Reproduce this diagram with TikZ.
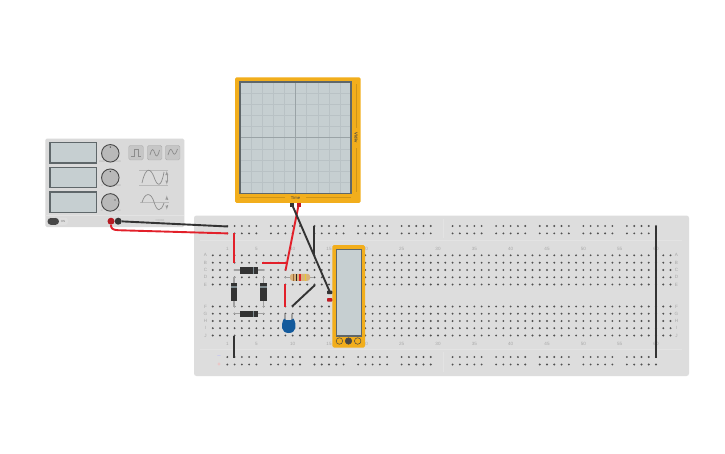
\documentclass[tikz,border=0pt]{standalone}
\usepackage{fontspec}
\setmainfont{Liberation Sans}
\definecolor{board}{HTML}{DDDDDD}
\definecolor{panel}{HTML}{DADADA}
\definecolor{lcd}{HTML}{C6CFD1}
\definecolor{lcdedge}{HTML}{5F676A}
\definecolor{amber}{HTML}{F2AE1C}
\definecolor{wred}{HTML}{E2202A}
\definecolor{wblack}{HTML}{333333}
\definecolor{dotc}{HTML}{505050}
\definecolor{lab}{HTML}{A8A8A8}
\definecolor{lead}{HTML}{A0A0A0}
\definecolor{bodyc}{HTML}{333333}
\definecolor{band}{HTML}{7F8C90}
\definecolor{capblue}{HTML}{135A9C}
\definecolor{grid}{HTML}{B9C2C5}
\definecolor{gridm}{HTML}{9AA3A6}
\definecolor{tan}{HTML}{D9B27A}
\definecolor{divline}{HTML}{E3E3E3}
\tikzset{
  redwire/.style={draw=wred,line width=1.9pt},
  blackwire/.style={draw=wblack,line width=1.9pt},
  leadwire/.style={draw=lead,line width=1.1pt},
  lcdbox/.style={fill=lcd,draw=lcdedge,line width=1.3pt},
  tinylab/.style={text=lab,font=\fontsize{4.6}{5}\selectfont,inner sep=0pt},
  knob/.style={circle,draw=wblack!90,fill=panel!85!black,line width=.9pt,minimum size=17.5pt,inner sep=0pt},
  waveline/.style={draw=gray!90,line width=.7pt},
  btn/.style={draw=gray!65,fill=gray!45,rounded corners=1.5pt,minimum size=14.5pt,inner sep=0pt,line width=.4pt},
  term/.style={circle,minimum size=7pt,inner sep=0pt},
}
\begin{document}
\begin{tikzpicture}[x=1pt,y=-1pt]
\useasboundingbox (0,0) rectangle (725,453);
\fill[white] (0,0) rectangle (725,453);
% breadboard
\fill[board,rounded corners=2.5pt] (194,215.5) rectangle (689,376);
\draw[divline,line width=.5pt] (200,240.5)--(682,240.5) (200,349.5)--(682,349.5);
\draw[divline,line width=.5pt] (443.2,219)--(443.2,238) (443.2,352)--(443.2,372);
\newcommand{\colx}[1]{\pgfmathsetmacro{\cx}{227.3+7.266*(#1-1)}}
% strip holes
\foreach \yy in {255.3,262.7,270,277.3,284.5,306.5,313.7,321,328.2,335.5}{
  \foreach \c in {-1,0,...,62}{
    \colx{\c}\fill[dotc] (\cx,\yy) circle (1.05pt);
  }
}
% rail holes
\foreach \yy in {226,233.4,357,364.5}{
  \foreach \s in {1,7,13,19,25,32,38,44,50,56}{
    \foreach \d in {0,...,4}{
      \colx{\s+\d}\fill[dotc] (\cx,\yy) circle (1.05pt);
    }
  }
}
% numbers
\foreach \n in {1,5,10,15,20,25,30,35,40,45,50,55,60}{
  \colx{\n}
  \node[tinylab] (numt\n) at (\cx,249) {\n};
  \node[tinylab] (numb\n) at (\cx,343.5) {\n};
}
\foreach \l/\yy in {A/255.3,B/262.7,C/270,D/277.3,E/284.5,F/306.5,G/313.7,H/321,I/328.2,J/335.5}{
  \node[tinylab] (ll\l) at (205.5,\yy) {\l};
  \node[tinylab] (lr\l) at (676.5,\yy) {\l};
}
\node[text=blue!30,font=\fontsize{6}{6}\selectfont,inner sep=0pt] (minus) at (219,357) {–};
\node[text=red!35,font=\fontsize{6}{6}\selectfont,inner sep=0pt] (plus) at (219,364.5) {+};
% component leads
\draw[leadwire] (234,270)--(263.5,270) (234,313.7)--(263.5,313.7);
\draw[leadwire] (234,277)--(234,306.5) (263.5,277)--(263.5,306.5);
\draw[leadwire] (285,277.3)--(314,277.3);
\draw[leadwire] (285,313.7)--(285,322) (292,313.7)--(292,322);
% diodes
\foreach \nm/\xa/\ya in {dh1/239.5/266.8,dh2/239.5/310.5}{
  \fill[bodyc] (\xa,\ya) rectangle ++(18.5,6.7);
  \fill[band] (\xa+13,\ya) rectangle ++(1.8,6.7);
}
\foreach \nm/\xa/\ya in {dv1/230.7/283.2,dv2/260.2/283.2}{
  \fill[bodyc] (\xa,\ya) rectangle ++(6.6,17.6);
  \fill[band] (\xa,\ya+2.6) rectangle ++(6.6,1.8);
}
% resistor
\fill[rounded corners=2.5pt,fill=tan] (290,273.8) rectangle (310,280.8);
\fill[brown!80!black] (292.7,273.8) rectangle ++(1.7,7);
\fill[black!85] (295.7,273.8) rectangle ++(1.7,7);
\fill[wred] (298.7,273.8) rectangle ++(2.3,7);
\fill[yellow!60!brown] (304.5,273.8) rectangle ++(1.7,7);
% capacitor
\fill[capblue] (284,318.5) -- (286,320) -- (291,320) -- (293.5,318.5) .. controls (297,325) and (296.5,333) .. (288.7,333) .. controls (281,333) and (280.5,325) .. (284,318.5) -- cycle;
% scope
\fill[amber,rounded corners=1.5pt] (235,77.3) rectangle (360.7,202.8);
\draw[amber!85!black,line width=.4pt] (240,197.5)--(285,197.5) (306,197.5)--(351,197.5) (356,84)--(356,128) (356,148)--(356,192);
\fill[lcd] (240,82) rectangle (351,193.3);
\foreach \i in {1,...,9}{
  \draw[grid,line width=.35pt] ({240+11.1*\i},82)--({240+11.1*\i},193.3);
  \draw[grid,line width=.35pt] (240,{82+11.13*\i})--(351,{82+11.13*\i});
}
\draw[gridm,line width=.55pt] (295.5,82)--(295.5,193.3) (240,137.6)--(351,137.6);
\draw[lcdedge,line width=1.1pt] (240,82) rectangle (351,193.3);
\node[text=black!75,font=\fontsize{4.2}{5}\selectfont,inner sep=0pt] (timelab) at (295.5,197.6) {Time};
\node[text=black!75,font=\bfseries\fontsize{4.2}{5}\selectfont,inner sep=0pt,rotate=-90] (vdiv) at (356,137.5) {V/div};
% multimeter
\fill[amber,rounded corners=1.5pt] (332.3,245) rectangle (365,347.5);
\node[lcdbox,anchor=north west,minimum width=25.3pt,minimum height=86.7pt,inner sep=0pt] (mscreen) at (335.8,248.5) {};
\foreach \nm/\xx/\f in {ma/339.4/amber,mb/348.5/wblack!90,mc/357.7/amber}{
  \node[circle,draw=wblack!90,fill=\f,line width=.5pt,minimum size=6.5pt,inner sep=0pt] (\nm) at (\xx,341) {};
}
% psu
\fill[panel,rounded corners=1.5pt] (45.3,138.6) rectangle (184.3,227);
\draw[divline,line width=.5pt] (45.3,215)--(184.3,215);
\foreach \nm/\ya in {s1/142.8,s2/167.5,s3/192}{
  \draw[lcdbox] (50,\ya) rectangle ++(46.5,20.3);
}
\node[knob] (k1) at (110.3,153.3) {};
\node[knob] (k2) at (110.3,177.7) {};
\node[knob] (k3) at (110.3,202.4) {};
\fill[wblack] (110.3,147) circle (.7pt) (110.3,171.5) circle (.7pt) (115,200) circle (.7pt);
\foreach \nm/\xx/\yy/\t in {a1/102/161.5/OOO,a2/118/161.5/OOO,a3/102/186/0,a4/118/186/OOO,a5/101.5/210.5/-0,a6/119/210.5/+0}{
  \node[tinylab,font=\fontsize{2.5}{3}\selectfont] (\nm) at (\xx,\yy) {\t};
}
\node[btn] (b1) at (136,152.7) {};
\node[btn] (b2) at (154.7,152.7) {};
\node[btn] (b3) at (172.7,152.7) {};
\draw[waveline] (131,156)--(134,156)--(134,149)--(138,149)--(138,156)--(141,156);
\draw[waveline] (150,155) .. controls (152,147) and (153.5,149) .. (154.7,153) .. controls (156,157) and (157.5,158) .. (159.5,150);
\draw[waveline] (168,155) .. controls (170,148) and (171,148) .. (172.7,152) .. controls (174,155) and (175,156) .. (177.5,149);
% amplitude icon
\draw[gray!55,line width=.4pt] (139,170.3)--(168,170.3) (139,185)--(168,185);
\draw[waveline] (142,183) .. controls (146,165) and (151,169) .. (154,177) .. controls (157,186) and (161,189) .. (164,172);
\draw[gray!80,line width=.4pt,<->,>=latex] (166.8,171)--(166.8,184.5);
% offset icon
\draw[gray!55,line width=.4pt] (140,202.2)--(169,202.2);
\draw[waveline] (142,202.5) .. controls (145,192) and (151,192) .. (154,202) .. controls (157,212) and (161,212) .. (164,203);
\draw[gray!80,line width=.4pt,->,>=latex] (166.8,200)--(166.8,195.5);
\draw[gray!80,line width=.4pt,->,>=latex] (166.8,205)--(166.8,209.5);
% switch
\fill[gray!25,rounded corners=3pt] (49.3,217.5) rectangle (68,225);
\fill[wblack!90] (50.5,217.8) rectangle (56,225);
\fill[wblack!90] (51,221.4) circle (3.5pt) (55.5,221.4) circle (3.5pt);
\node[tinylab,text=gray,font=\fontsize{3}{3}\selectfont] (onlab) at (63,221.4) {ON};
% terminals
\node[term,fill=wred!80!black] (pospsu) at (111,221.2) {};
\node[term,fill=wblack] (negpsu) at (118.2,221.2) {};
\node[tinylab,text=gray!60,font=\fontsize{2.8}{3}\selectfont] (brand) at (160,220.5) {OOOO};
% wire endpoints
\coordinate (r1) at (228,233.4);
\coordinate (k) at (228,226.5);
\coordinate (r2a) at (234,233.4);
\coordinate (r2b) at (234,262.7);
\coordinate (r3a) at (262,262.7);
\coordinate (r3b) at (285.5,262.7);
\coordinate (r4a) at (285.5,270.5);
\coordinate (sr) at (298.8,204);
\coordinate (sk) at (291.8,204);
\coordinate (r5a) at (285,284);
\coordinate (r5b) at (285,306.5);
\coordinate (k1a) at (314,226);
\coordinate (k1b) at (314,256);
\coordinate (k2a) at (315,285);
\coordinate (k2b) at (292,306.5);
\coordinate (k3a) at (234,335.5);
\coordinate (k3b) at (234,357.5);
\coordinate (k4a) at (656,226);
\coordinate (k4b) at (656,357.5);
\coordinate (mk) at (330,292.3);
\coordinate (mr) at (330,299.8);
% wires
\draw[redwire] (pospsu) .. controls (111,228) and (112,230) .. (118,230.2) -- (r1);
\draw[blackwire] (negpsu) -- (k);
\draw[redwire] (r2a)--(r2b);
\draw[redwire] (r3a)--(r3b);
\draw[redwire] (r4a)--(sr);
\draw[redwire] (r5a)--(r5b);
\draw[blackwire] (k1a)--(k1b);
\draw[blackwire] (k2a)--(k2b);
\draw[blackwire] (k3a)--(k3b);
\draw[blackwire] (k4a)--(k4b);
\draw[blackwire] (sk)--(mk);
% probes
\fill[wblack] (291.8,204.8) +(-1.9,-2.2) rectangle +(1.9,2.2);
\fill[wred!85!black] (298.8,204.8) +(-1.9,-2.2) rectangle +(1.9,2.2);
\fill[wblack,rounded corners=.8pt] (327,290.5) rectangle (332.3,294.2);
\fill[wred!85!black,rounded corners=.8pt] (327,298) rectangle (332.3,301.7);
\end{tikzpicture}
\end{document}
